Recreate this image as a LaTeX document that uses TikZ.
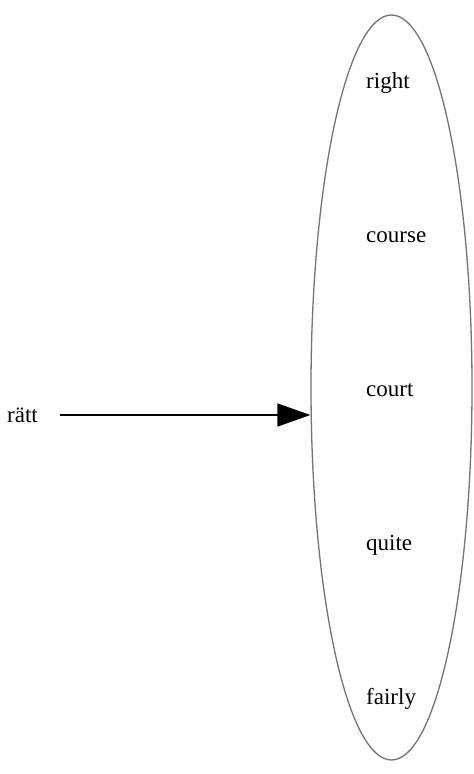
\documentclass[tikz,border=0pt]{standalone}
\usepackage{fontspec}
\setmainfont{Liberation Serif}
\usetikzlibrary{arrows.meta,shapes.geometric}

\tikzset{
    word/.style = {anchor=base west, inner sep=0pt, font=\fontsize{23}{27}\selectfont},
    sense/.style = {ellipse, draw=black!55, line width=1.3pt, minimum width=161pt, minimum height=745pt, inner sep=0pt}
}

\begin{document}
\begin{tikzpicture}[x = 1pt, y = -1pt]
    \useasboundingbox (0,0) rectangle (474,774);
    \node[sense] (grp) at (391.5,387.5) {};
    \node[word] (right) at (366,88) {right};
    \node[word] (course) at (366,242) {course};
    \node[word] (court) at (366,396) {court};
    \node[word] (quite) at (366,550) {quite};
    \node[word] (fairly) at (366,704) {fairly};
    \node[word] (ratt) at (7,422) {rätt};
    \coordinate (start) at (60,415);
    \draw[line width=1.4pt, -{Triangle[length=33pt, width=23pt]}]
    (start) -- (start -| grp.west);
\end{tikzpicture}
\end{document}
